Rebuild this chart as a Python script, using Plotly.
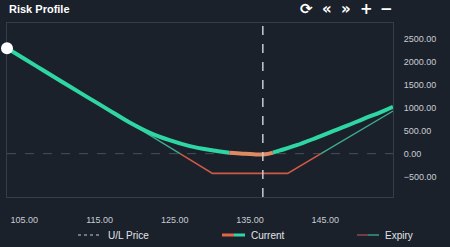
import plotly.graph_objects as go

# ---------------- data ----------------
current_price = [102.7, 105, 107.5, 110, 112.5, 115, 117, 119, 121.7, 124.3, 127,
                 129.7, 132, 134, 135.5, 137, 138, 139, 141.2, 143.4, 145.7,
                 147.9, 150.1, 152.3, 154.0]
current_pnl = [2300, 2070, 1820, 1570, 1320, 1075, 875, 680, 455, 295, 165,
               80, 25, 0, -15, -15, 20, 70, 185, 320, 470,
               610, 760, 900, 1020]

expiry_price = [102.7, 130, 140, 154.0]
expiry_pnl = [2300, -430, -430, 930]

ul_price = 136.7

x_ticks = [105, 115, 125, 135, 145]
y_ticks = [-500, 0, 500, 1000, 1500, 2000, 2500]

x_range = [102.7, 154.0]
y_range = [-945, 2850]

# ---------------- styling ----------------
BG = "#1a212b"
TEAL = "#2fd6a3"
ORANGE = "#e08a62"
EXP_TEAL = "#3fae8e"
EXP_RED = "#cf5a44"
TXT = "#c9cdd2"
FONT = "Liberation Sans, Arial, sans-serif"

W, H = 450, 247
ML, MR, MT, MB = 7, 57, 23, 50
PW, PH = W - ML - MR, H - MT - MB


def px(xp):
    return (xp - ML) / PW


def py(yp):
    return (H - MB - yp) / PH


def split_sign(xs, ys, level=0.0):
    pts = []
    for i in range(len(xs) - 1):
        pts.append((xs[i], ys[i]))
        a, b = ys[i] - level, ys[i + 1] - level
        if a * b < 0:
            xc = xs[i] + (0 - a) * (xs[i + 1] - xs[i]) / (b - a)
            pts.append((xc, level))
    pts.append((xs[-1], ys[-1]))
    groups = {"pos": ([], []), "neg": ([], [])}
    for a, b in zip(pts[:-1], pts[1:]):
        g = "pos" if (a[1] + b[1]) / 2 >= level else "neg"
        gx, gy = groups[g]
        if not gx or gx[-1] != a[0]:
            if gx:
                gx.append(None)
                gy.append(None)
            gx.append(a[0])
            gy.append(a[1])
        gx.append(b[0])
        gy.append(b[1])
    return groups


fig = go.Figure()

eg = split_sign(expiry_price, expiry_pnl)
fig.add_trace(go.Scatter(x=eg["pos"][0], y=eg["pos"][1], mode="lines",
                         line=dict(color=EXP_TEAL, width=1.3), hoverinfo="skip",
                         name="Expiry"))
fig.add_trace(go.Scatter(x=eg["neg"][0], y=eg["neg"][1], mode="lines",
                         line=dict(color=EXP_RED, width=1.6), hoverinfo="skip",
                         name="Expiry"))

cg = split_sign(current_price, current_pnl, level=22)
fig.add_trace(go.Scatter(x=cg["pos"][0], y=cg["pos"][1], mode="lines",
                         line=dict(color=TEAL, width=4, shape="spline", smoothing=1.0),
                         hoverinfo="skip", name="Current"))
fig.add_trace(go.Scatter(x=cg["neg"][0], y=cg["neg"][1], mode="lines",
                         line=dict(color=ORANGE, width=4, shape="spline", smoothing=1.0),
                         hoverinfo="skip", name="Current"))

fig.add_trace(go.Scatter(x=[current_price[0]], y=[current_pnl[0]], mode="markers",
                         marker=dict(color="white", size=12), hoverinfo="skip",
                         cliponaxis=False))

# zero line and U/L price line
fig.add_shape(type="line", xref="x domain", yref="y", x0=0, x1=1, y0=0, y1=0,
              line=dict(color="#46515c", width=1, dash="dash"), layer="below")
fig.add_shape(type="line", xref="x", yref="y domain", x0=ul_price, x1=ul_price,
              y0=0, y1=1, line=dict(color="#c8ccd0", width=1.5, dash="dash"))

# title and icons
fig.add_annotation(text="<b>Risk Profile</b>", xref="paper", yref="paper",
                   x=px(7), y=py(9), xanchor="left", yanchor="middle",
                   showarrow=False, font=dict(family=FONT, size=11, color="white"))
icons = ["⟳", "«", "»", "+", "−"]
icon_x = [306, 327, 346, 366, 386]
for t, xi in zip(icons, icon_x):
    fig.add_annotation(text="<b>%s</b>" % t, xref="paper", yref="paper",
                       x=px(xi), y=py(9.5), xanchor="center", yanchor="middle",
                       showarrow=False, font=dict(family="DejaVu Sans", size=15, color="white"))

# manual legend
LY = 235
fig.add_shape(type="line", xref="paper", yref="paper", x0=px(78), x1=px(101),
              y0=py(LY), y1=py(LY), line=dict(color="#c8ccd0", width=1, dash="dot"))
fig.add_shape(type="line", xref="paper", yref="paper", x0=px(222), x1=px(234),
              y0=py(LY), y1=py(LY), line=dict(color="#e0664a", width=3))
fig.add_shape(type="line", xref="paper", yref="paper", x0=px(234), x1=px(245),
              y0=py(LY), y1=py(LY), line=dict(color=TEAL, width=3))
fig.add_shape(type="line", xref="paper", yref="paper", x0=px(357), x1=px(368),
              y0=py(LY), y1=py(LY), line=dict(color="#a0505a", width=1.3))
fig.add_shape(type="line", xref="paper", yref="paper", x0=px(368), x1=px(379),
              y0=py(LY), y1=py(LY), line=dict(color=EXP_TEAL, width=1.3))
for t, xi in [("U/L Price", 106), ("Current", 249), ("Expiry", 383)]:
    fig.add_annotation(text=t, xref="paper", yref="paper", x=px(xi), y=py(LY),
                       xanchor="left", yanchor="middle", showarrow=False,
                       font=dict(family=FONT, size=10, color="#e2e4e7"))

fig.update_layout(
    width=W, height=H,
    margin=dict(l=ML, r=MR, t=MT, b=MB),
    paper_bgcolor=BG, plot_bgcolor=BG,
    showlegend=False,
    font=dict(family=FONT, size=9, color=TXT),
)
fig.update_xaxes(range=x_range, tickvals=x_ticks, tickformat=".2f",
                 showgrid=False, zeroline=False, showline=True, mirror=True,
                 linecolor="#343e49", linewidth=1, ticks="", layer="below traces",
                 ticklabelstandoff=14, tickfont=dict(size=9, color=TXT))
fig.update_yaxes(range=y_range, tickvals=y_ticks, tickformat=".2f", side="right",
                 showgrid=False, zeroline=False, showline=True, mirror=True,
                 linecolor="#343e49", linewidth=1, ticks="", layer="below traces",
                 ticklabelstandoff=8, tickfont=dict(size=9, color=TXT))

fig.write_html("out.html")
